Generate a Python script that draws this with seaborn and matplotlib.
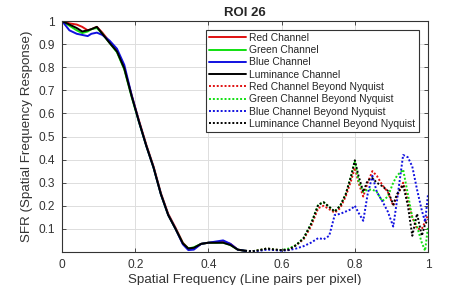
import numpy as np
import pandas as pd
import matplotlib
matplotlib.use("Agg")
import matplotlib.pyplot as plt
import seaborn as sns

# ---- data ----
x_solid = [0, 0.02, 0.04, 0.055, 0.07, 0.08, 0.095, 0.11, 0.13, 0.15, 0.17, 0.19,
           0.21, 0.23, 0.25, 0.27, 0.29, 0.31, 0.33, 0.345, 0.36, 0.38, 0.40, 0.42,
           0.44, 0.46, 0.48, 0.50]
red_solid = [1.0, 0.99, 0.985, 0.975, 0.96, 0.965, 0.975, 0.95, 0.91, 0.87, 0.795, 0.68,
             0.57, 0.465, 0.37, 0.255, 0.165, 0.105, 0.04, 0.015, 0.015, 0.035, 0.04, 0.04,
             0.045, 0.035, 0.01, 0.005]
green_solid = [1.0, 0.98, 0.96, 0.948, 0.955, 0.965, 0.97, 0.945, 0.905, 0.865, 0.79, 0.672,
               0.563, 0.46, 0.365, 0.25, 0.16, 0.1, 0.037, 0.015, 0.02, 0.035, 0.04, 0.04,
               0.04, 0.03, 0.01, 0.005]
blue_solid = [1.0, 0.96, 0.945, 0.94, 0.935, 0.945, 0.95, 0.94, 0.915, 0.88, 0.81, 0.68,
              0.565, 0.46, 0.365, 0.25, 0.16, 0.1, 0.033, 0.008, 0.01, 0.035, 0.04, 0.045,
              0.05, 0.035, 0.01, 0.005]
lum_solid = [1.0, 0.985, 0.97, 0.955, 0.96, 0.965, 0.975, 0.945, 0.905, 0.868, 0.795, 0.675,
             0.565, 0.46, 0.365, 0.25, 0.16, 0.1, 0.037, 0.015, 0.018, 0.035, 0.04, 0.04,
             0.04, 0.03, 0.01, 0.005]

x_dot = [0.5, 0.52, 0.54, 0.56, 0.58, 0.60, 0.62, 0.64, 0.66, 0.68, 0.70, 0.715, 0.73,
         0.745, 0.76, 0.775, 0.79, 0.80, 0.81, 0.823, 0.835, 0.848, 0.86, 0.875, 0.89,
         0.905, 0.915, 0.932, 0.945, 0.957, 0.97, 0.983, 0.992, 1.0]
red_dot = [0.005, 0.003, 0.008, 0.015, 0.01, 0.008, 0.01, 0.03, 0.055, 0.11, 0.19, 0.2,
           0.185, 0.17, 0.19, 0.24, 0.31, 0.365, 0.30, 0.24, 0.30, 0.35, 0.33, 0.29, 0.26,
           0.2, 0.24, 0.3, 0.22, 0.15, 0.1, 0.1, 0.13, 0.16]
green_dot = [0.005, 0.003, 0.008, 0.015, 0.01, 0.008, 0.015, 0.03, 0.06, 0.12, 0.205, 0.215,
             0.195, 0.175, 0.2, 0.25, 0.33, 0.395, 0.31, 0.26, 0.27, 0.27, 0.26, 0.22, 0.24,
             0.3, 0.33, 0.357, 0.25, 0.15, 0.11, 0.04, 0.005, 0.11]
blue_dot = [0.005, 0.003, 0.005, 0.01, 0.008, 0.005, 0.008, 0.015, 0.025, 0.04, 0.06, 0.055,
            0.07, 0.16, 0.165, 0.175, 0.185, 0.2, 0.17, 0.135, 0.25, 0.33, 0.26, 0.22, 0.175,
            0.11, 0.22, 0.42, 0.41, 0.37, 0.27, 0.18, 0.13, 0.25]
lum_dot = [0.005, 0.003, 0.008, 0.015, 0.01, 0.008, 0.01, 0.03, 0.06, 0.12, 0.205, 0.215,
           0.195, 0.175, 0.2, 0.25, 0.33, 0.397, 0.33, 0.26, 0.31, 0.32, 0.30, 0.285, 0.265,
           0.205, 0.25, 0.29, 0.2, 0.07, 0.165, 0.07, 0.12, 0.14]

labels_solid = ["Red Channel", "Green Channel", "Blue Channel", "Luminance Channel"]
labels_dot = ["Red Channel Beyond Nyquist", "Green Channel Beyond Nyquist",
              "Blue Channel Beyond Nyquist", "Luminance Channel Beyond Nyquist"]
x_ticks = [0, 0.2, 0.4, 0.6, 0.8, 1]
y_ticks = [0.1, 0.2, 0.3, 0.4, 0.5, 0.6, 0.7, 0.8, 0.9, 1]

colors = ["#e01010", "#10e010", "#1010e0", "#000000"]

# ---- style ----
sns.set_style("whitegrid")
plt.rcParams["font.family"] = ["Liberation Sans", "DejaVu Sans"]

fig = plt.figure(figsize=(4.74, 2.85), dpi=100)
ax = fig.add_axes([0.131, 0.116, 0.772, 0.810])

solid_sets = [red_solid, green_solid, blue_solid, lum_solid]
dot_sets = [red_dot, green_dot, blue_dot, lum_dot]

for ys, lab, c in zip(solid_sets, labels_solid, colors):
    df = pd.DataFrame({"x": x_solid, "y": ys})
    sns.lineplot(data=df, x="x", y="y", ax=ax, color=c, linewidth=1.4,
                 label=lab, sort=False, estimator=None)
for ys, lab, c in zip(dot_sets, labels_dot, colors):
    df = pd.DataFrame({"x": x_dot, "y": ys})
    sns.lineplot(data=df, x="x", y="y", ax=ax, color=c, linewidth=1.4,
                 linestyle=(0, (1, 1)), label=lab, sort=False, estimator=None)

ax.set_xlim(0, 1)
ax.set_ylim(0, 1)
ax.set_xticks(x_ticks)
ax.set_xticklabels([f"{t:g}" for t in x_ticks])
ax.set_yticks(y_ticks)
ax.set_yticklabels([f"{t:g}" for t in y_ticks])
ax.grid(True, color="#dddddd", linewidth=0.7)
for s in ax.spines.values():
    s.set_visible(True)
    s.set_color("#333333")
    s.set_linewidth(0.8)
ax.tick_params(direction="in", length=3, width=0.6, colors="#333333",
               labelcolor="#333333", labelsize=8.6, pad=5,
               top=True, right=True, bottom=True, left=True)

ax.set_xlabel("Spatial Frequency (Line pairs per pixel)", fontsize=9.6, color="#333333", labelpad=2)
ax.set_ylabel("SFR (Spatial Frequency Response)", fontsize=9.6, color="#333333", labelpad=4)
ax.set_title("ROI 26", fontsize=9.5, fontweight="bold", pad=4)

leg = ax.legend(loc="upper right", bbox_to_anchor=(0.974, 0.962), fontsize=7.4,
                frameon=True, fancybox=False, framealpha=1, edgecolor="#333333",
                handlelength=3.6, labelspacing=0.22, borderpad=0.3, handletextpad=0.3,
                borderaxespad=0.0)
leg.get_frame().set_linewidth(0.8)

fig.savefig("out.png", dpi=100)
